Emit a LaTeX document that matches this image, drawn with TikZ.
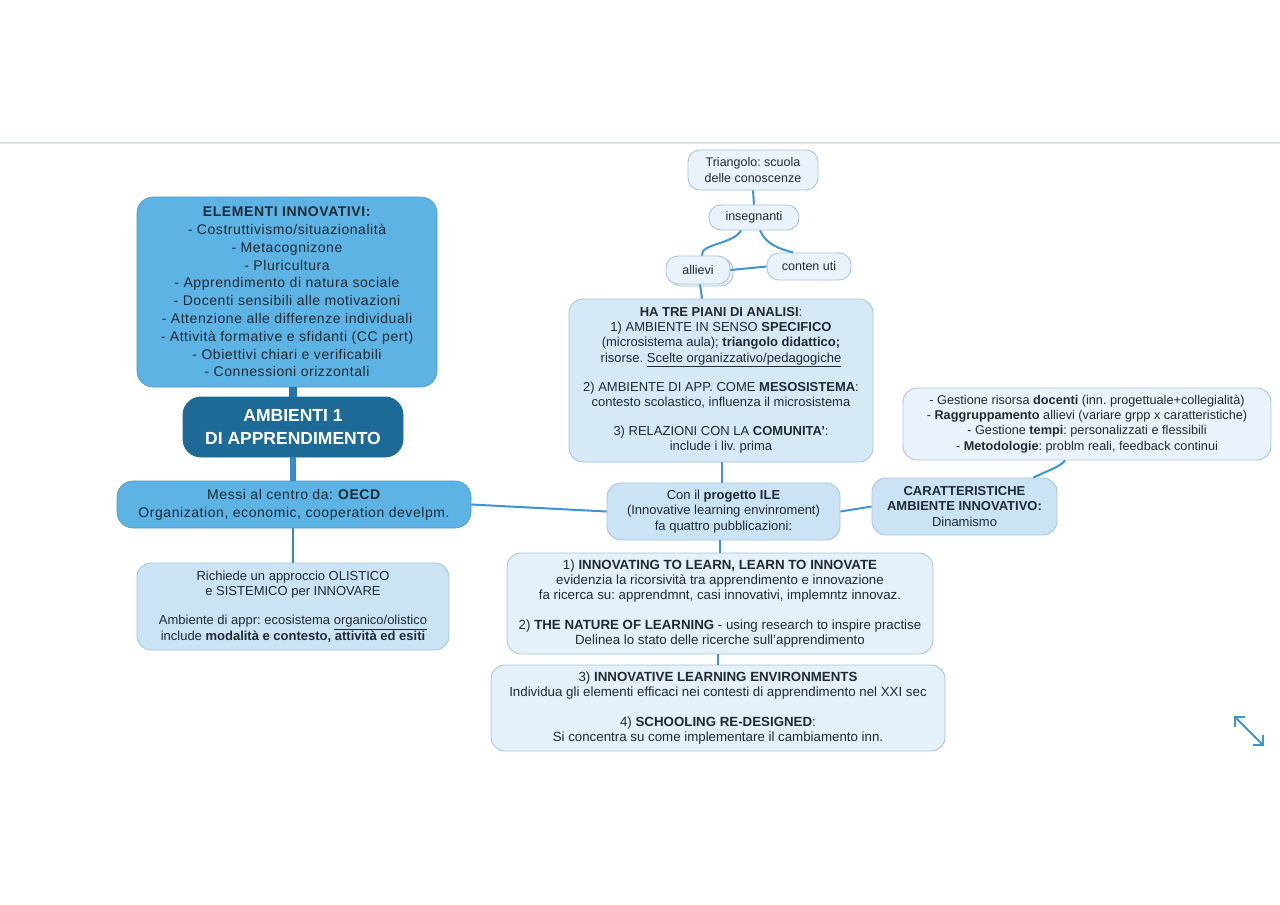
\documentclass[tikz,border=0pt]{standalone}
\usepackage{fontspec}
\setmainfont{Liberation Sans}
\usetikzlibrary{arrows.meta}
\frenchspacing
\definecolor{txt}{HTML}{1F2A33}
\definecolor{midblue}{HTML}{5DB3E4}
\definecolor{darkblue}{HTML}{1D6A97}
\definecolor{lightA}{HTML}{D6E9F7}
\definecolor{lightB}{HTML}{CBE4F5}
\definecolor{paleA}{HTML}{EAF3FB}
\definecolor{paleB}{HTML}{E4F0FA}
\definecolor{edge}{HTML}{A9C6DC}
\definecolor{conn}{HTML}{3D94D4}
\definecolor{thickconn}{HTML}{2474AC}
\definecolor{topline}{HTML}{DDE2E6}
\tikzset{
  boxbase/.style={rounded corners=14pt, align=center, inner sep=0pt, text=txt, draw=edge, line width=0.9pt},
  pale/.style={boxbase, fill=paleA, rounded corners=12pt, font=\fontsize{12.5}{15.5}\selectfont},
  light/.style={boxbase, fill=lightA, font=\fontsize{13}{15.2}\selectfont},
  lightb/.style={boxbase, fill=lightB, font=\fontsize{13}{15.2}\selectfont},
  paleb/.style={boxbase, fill=paleB, font=\fontsize{13.3}{15.2}\selectfont},
  mid/.style={boxbase, fill=midblue, draw=midblue!85!black, line width=0.6pt, rounded corners=16pt, font=\fontsize{14}{17.8}\selectfont\addfontfeature{LetterSpace=4}},
  title/.style={boxbase, fill=darkblue, draw=darkblue, text=white, rounded corners=18pt, font=\fontsize{17.5}{23}\selectfont\bfseries},
  link/.style={draw=conn, line width=2pt},
}
\begin{document}
\begin{tikzpicture}[x=1pt,y=-1pt]
\useasboundingbox (0,0) rectangle (1280,905);
\fill[white] (0,0) rectangle (1280,905);
\draw[topline, line width=2pt] (0,143) -- (1280,143);

% triangle nodes
\node[pale, minimum width=130pt, minimum height=40pt] (tri) at (753,170) {Triangolo: scuola\\delle conoscenze};
\node[pale, minimum width=90pt, minimum height=25pt] (ins) at (754,217.5) {insegnanti};
\fill[paleA, draw=edge, line width=0.9pt, rounded corners=12pt] (669,258) rectangle (733,286);
\node[pale, minimum width=64pt, minimum height=28pt] (all) at (698,270) {allievi};
\node[pale, minimum width=84pt, minimum height=27pt] (con) at (809,266.5) {conten uti};

% central column
\node[light, minimum width=304pt, minimum height=163pt] (ha) at (721,380.5) {%
\textbf{HA TRE PIANI DI ANALISI}:\\
1) AMBIENTE IN SENSO \textbf{SPECIFICO}\\
(microsistema aula); \textbf{triangolo didattico;}\\
risorse. \underline{Scelte organizzativo/pedagogiche}\\[14pt]
2) AMBIENTE DI APP. COME \textbf{MESOSISTEMA}:\\
contesto scolastico, influenza il microsistema\\[14pt]
3) RELAZIONI CON LA \textbf{COMUNITA'}:\\
include i liv. prima};

\node[lightb, minimum width=233pt, minimum height=57pt] (ile) at (723.5,511.5) {%
Con il \textbf{progetto ILE}\\
(Innovative learning envinroment)\\
fa quattro pubblicazioni:};

\node[lightb, minimum width=185pt, minimum height=57pt] (car) at (964.5,506.5) {%
\textbf{CARATTERISTICHE}\\
\textbf{AMBIENTE INNOVATIVO:}\\
Dinamismo};

\node[pale, font=\fontsize{12.7}{15.2}\selectfont, rounded corners=14pt, minimum width=368pt, minimum height=72pt] (rb) at (1087,424) {%
- Gestione risorsa \textbf{docenti} (inn. progettuale+collegialità)\\
- \textbf{Raggruppamento} allievi (variare grpp x caratteristiche)\\
- Gestione \textbf{tempi}: personalizzati e flessibili\\
- \textbf{Metodologie}: problm reali, feedback continui};

\node[paleb, minimum width=426pt, minimum height=101pt] (b12) at (720,603.5) {%
1) \textbf{INNOVATING TO LEARN, LEARN TO INNOVATE}\\
evidenzia la ricorsività tra apprendimento e innovazione\\
fa ricerca su: apprendmnt, casi innovativi, implemntz innovaz.\\[14pt]
2) \textbf{THE NATURE OF LEARNING} - using research to inspire practise\\
Delinea lo stato delle ricerche sull’apprendimento};

\node[paleb, minimum width=454pt, minimum height=86pt] (b34) at (718,708) {%
3) \textbf{INNOVATIVE LEARNING ENVIRONMENTS}\\
Individua gli elementi efficaci nei contesti di apprendimento nel XXI sec\\[14pt]
4) \textbf{SCHOOLING RE-DESIGNED}:\\
Si concentra su come implementare il cambiamento inn.};

% left column
\node[mid, minimum width=300pt, minimum height=190pt] (el) at (287,292) {%
\textbf{ELEMENTI INNOVATIVI:}\\
- Costruttivismo/situazionalità\\
- Metacognizone\\
- Pluricultura\\
- Apprendimento di natura sociale\\
- Docenti sensibili alle motivazioni\\
- Attenzione alle differenze individuali\\
- Attività formative e sfidanti (CC pert)\\
- Obiettivi chiari e verificabili\\
- Connessioni orizzontali};

\node[title, minimum width=220pt, minimum height=60pt] (amb) at (293,427) {AMBIENTI 1\\DI APPRENDIMENTO};

\node[mid, minimum width=354pt, minimum height=47pt, rounded corners=16pt] (oecd) at (294,504.5) {%
Messi al centro da: \textbf{OECD}\\
Organization, economic, cooperation develpm.};

\node[lightb, minimum width=312pt, minimum height=87pt] (bl) at (293,606.5) {%
Richiede un approccio OLISTICO\\
e SISTEMICO per INNOVARE\\[14pt]
Ambiente di appr: ecosistema \underline{organico/olistico}\\
include \textbf{modalità e contesto, attività ed esiti}};

% connectors
\draw[link] (tri.south) -- (ins.north);
\draw[link] ([xshift=-13pt]ins.south) .. controls +(-8,14) and +(-2,-12) .. ([xshift=4pt]all.north);
\draw[link] ([xshift=6pt]ins.south) .. controls +(6,14) and +(-14,-4) .. ([xshift=-16pt]con.north);
\draw[link] (all.east) -- (con.west);
\draw[link] ([xshift=2pt]all.south) -- ([xshift=-19pt]ha.north);
\draw[link] ([xshift=1pt]ha.south) -- ([xshift=-1.5pt]ile.north);
\draw[link] (ile.west) -- (oecd.east);
\draw[link] (ile.east) -- (car.west);
\draw[link] ([xshift=-24pt]car.north east) .. controls +(12,-6) and +(-4,6) .. ([xshift=-22pt]rb.south);
\draw[link] ([xshift=-3.5pt]ile.south) -- (b12.north);
\draw[link] ([xshift=-2pt]b12.south) -- (b34.north);
\draw[thickconn, line width=8pt] ([xshift=6pt]el.south) -- (amb.north);
\draw[conn!80!darkblue, line width=6pt] (amb.south) -- ([xshift=-1pt]oecd.north);
\draw[conn!70!darkblue, line width=2pt] ([xshift=-1pt]oecd.south) -- (bl.north);

% resize icon
\draw[conn, line width=2pt, {Straight Barb[length=7pt,width=14pt]}-{Straight Barb[length=7pt,width=14pt]}] (1234,716) -- (1264,746);
\end{tikzpicture}
\end{document}
